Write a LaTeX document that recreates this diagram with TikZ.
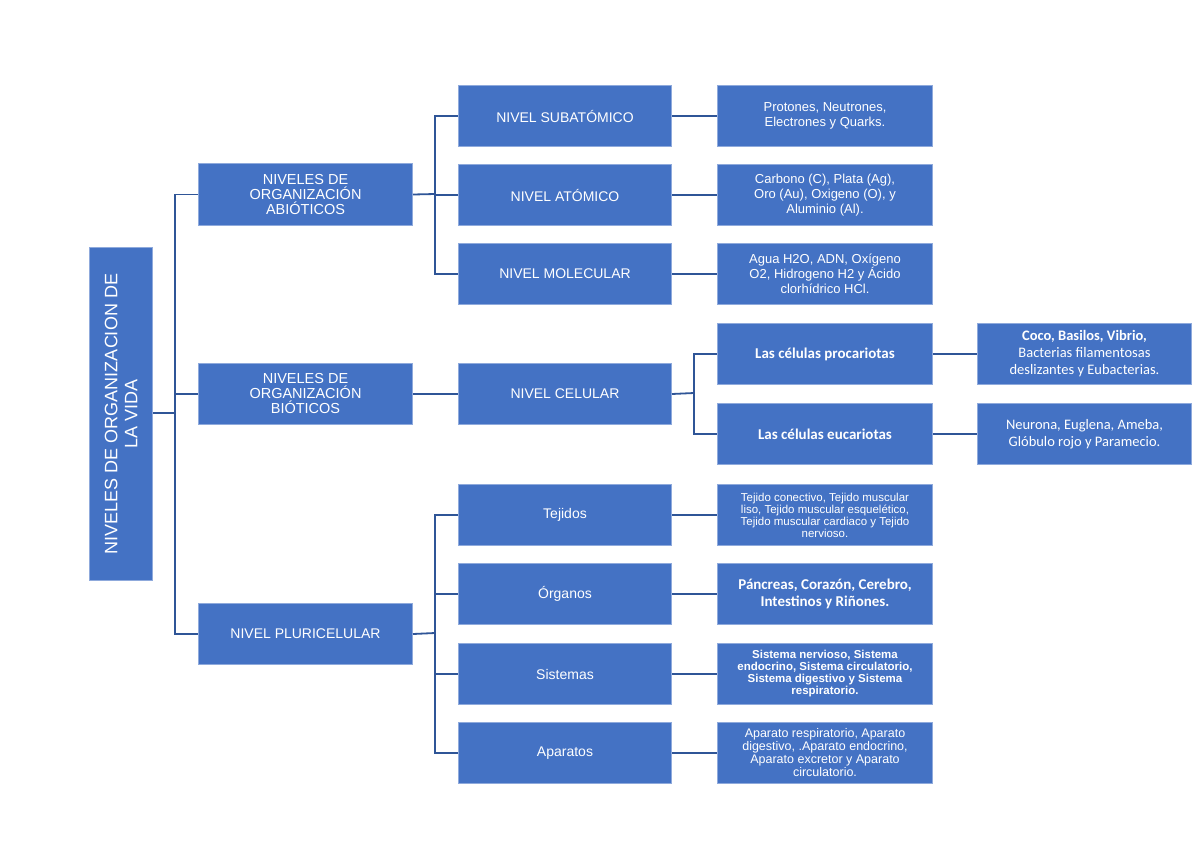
\documentclass[tikz,border=0pt]{standalone}
\usepackage{fontspec}
\setmainfont{Liberation Sans}
\newfontfamily\calfont{Carlito}
\begin{document}
\begin{tikzpicture}[x=1pt,y=-1pt,
 bx/.style={draw=cellb,line width=1pt,fill=cell,text=white,inner sep=2pt,align=center,anchor=north west},
 ln/.style={draw=lin,line width=1.8pt},
 t1/.style={font=\fontsize{14.5}{15}\selectfont},
 t2/.style={font=\fontsize{13}{15}\selectfont},
 t3/.style={font=\fontsize{14}{16}\selectfont},
 t4/.style={font=\fontsize{11.5}{12}\selectfont},
 cb/.style={font=\calfont\bfseries\fontsize{15}{17}\selectfont},
 cn/.style={font=\calfont\fontsize{14.5}{17}\selectfont}]
\definecolor{cell}{HTML}{4472C4}
\definecolor{cellb}{HTML}{8FAADC}
\definecolor{lin}{HTML}{2F5597}
\useasboundingbox[fill=white] (0,0) rectangle (1200,849);
\newcommand{\bb}[5]{\node[bx,minimum width=#3,minimum height=#4] (#5) at (#1,#2) {};}
\bb{89}{247}{63pt}{333pt}{root}
\node[rotate=90,text=white,align=center,font=\fontsize{18}{20}\selectfont] at (root.center) {NIVELES DE ORGANIZACION DE\\LA VIDA};
\bb{198}{163}{214pt}{62pt}{abio}
\bb{198}{363}{214pt}{61pt}{bio}
\bb{198}{603}{214pt}{61pt}{pluri}
\node[text=white,align=center,t1] at (abio.center) {NIVELES DE\\ORGANIZACIÓN\\ABIÓTICOS};
\node[text=white,align=center,t1] at (bio.center) {NIVELES DE\\ORGANIZACIÓN\\BIÓTICOS};
\node[text=white,align=center,t3] at (pluri.center) {NIVEL PLURICELULAR};
\foreach \n/\y in {sub/85,ato/164,mol/243,cel/363,tej/484,org/563,sis/643,apa/722}{
 \bb{458}{\y}{213pt}{61pt}{\n}
}
\foreach \n/\y in {sub/85,ato/164,mol/243,tej/484,org/563,sis/643,apa/722}{
 \bb{717}{\y}{215pt}{61pt}{r\n}
}
\node[text=white,t3] at (sub.center) {NIVEL SUBATÓMICO};
\node[text=white,t3] at (ato.center) {NIVEL ATÓMICO};
\node[text=white,t3] at (mol.center) {NIVEL MOLECULAR};
\node[text=white,t3] at (cel.center) {NIVEL CELULAR};
\node[text=white,t3] at (tej.center) {Tejidos};
\node[text=white,t3] at (org.center) {Órganos};
\node[text=white,t3] at (sis.center) {Sistemas};
\node[text=white,t3] at (apa.center) {Aparatos};
\node[text=white,align=center,t2] at (rsub.center) {Protones, Neutrones,\\Electrones y Quarks.};
\node[text=white,align=center,t2] at (rato.center) {Carbono (C), Plata (Ag),\\Oro (Au), Oxigeno (O), y\\Aluminio (Al).};
\node[text=white,align=center,t2] at (rmol.center) {Agua H2O, ADN, Oxígeno\\O2, Hidrogeno H2 y Ácido\\clorhídrico HCl.};
\node[text=white,align=center,t4] at (rtej.center) {Tejido conectivo, Tejido muscular\\liso, Tejido muscular esquelético,\\Tejido muscular cardiaco y Tejido\\nervioso.};
\node[text=white,align=center,cb] at (rorg.center) {Páncreas, Corazón, Cerebro,\\Intestinos y Riñones.};
\node[text=white,align=center,font=\bfseries\fontsize{11.5}{12}\selectfont] at (rsis.center) {Sistema nervioso, Sistema\\endocrino, Sistema circulatorio,\\Sistema digestivo y Sistema\\respiratorio.};
\node[text=white,align=center,font=\fontsize{12.5}{13}\selectfont] at (rapa.center) {Aparato respiratorio, Aparato\\digestivo, .Aparato endocrino,\\Aparato excretor y Aparato\\circulatorio.};
\bb{717}{323}{215pt}{61pt}{pro}
\bb{717}{403}{215pt}{61pt}{euk}
\bb{977}{323}{214pt}{61pt}{pro2}
\bb{977}{403}{214pt}{61pt}{euk2}
\node[text=white,cb] at (pro.center) {Las células procariotas};
\node[text=white,cb] at (euk.center) {Las células eucariotas};
\node[text=white,align=center,cn] at (pro2.center) {\bfseries Coco, Basilos, Vibrio,\\Bacterias filamentosas\\deslizantes y Eubacterias.};
\node[text=white,align=center,cn] at (euk2.center) {Neurona, Euglena, Ameba,\\Glóbulo rojo y Paramecio.};
\coordinate (b0) at (175,413);
\draw[ln] (root.east|-b0) -- (b0);
\draw[ln] (abio.west) -| (b0) |- (pluri.west);
\draw[ln] (bio.west) -- (bio.west-|b0);
\coordinate (b1) at (435,194);
\draw[ln] (abio.east) -- (b1);
\draw[ln] (sub.west) -| (b1) |- (mol.west);
\draw[ln] (ato.west) -- (ato.west-|b1);
\draw[ln] (bio.east) -- (cel.west);
\coordinate (b2) at (435,633);
\draw[ln] (pluri.east) -- (b2);
\draw[ln] (tej.west) -| (b2) |- (apa.west);
\draw[ln] (org.west) -- (org.west-|b2);
\draw[ln] (sis.west) -- (sis.west-|b2);
\foreach \n in {sub,ato,mol,tej,org,sis,apa}{\draw[ln] (\n.east) -- (r\n.west);}
\coordinate (b3) at (694,393);
\draw[ln] (cel.east) -- (b3);
\draw[ln] (pro.west) -| (b3) |- (euk.west);
\draw[ln] (pro.east) -- (pro2.west);
\draw[ln] (euk.east) -- (euk2.west);
\end{tikzpicture}
\end{document}
